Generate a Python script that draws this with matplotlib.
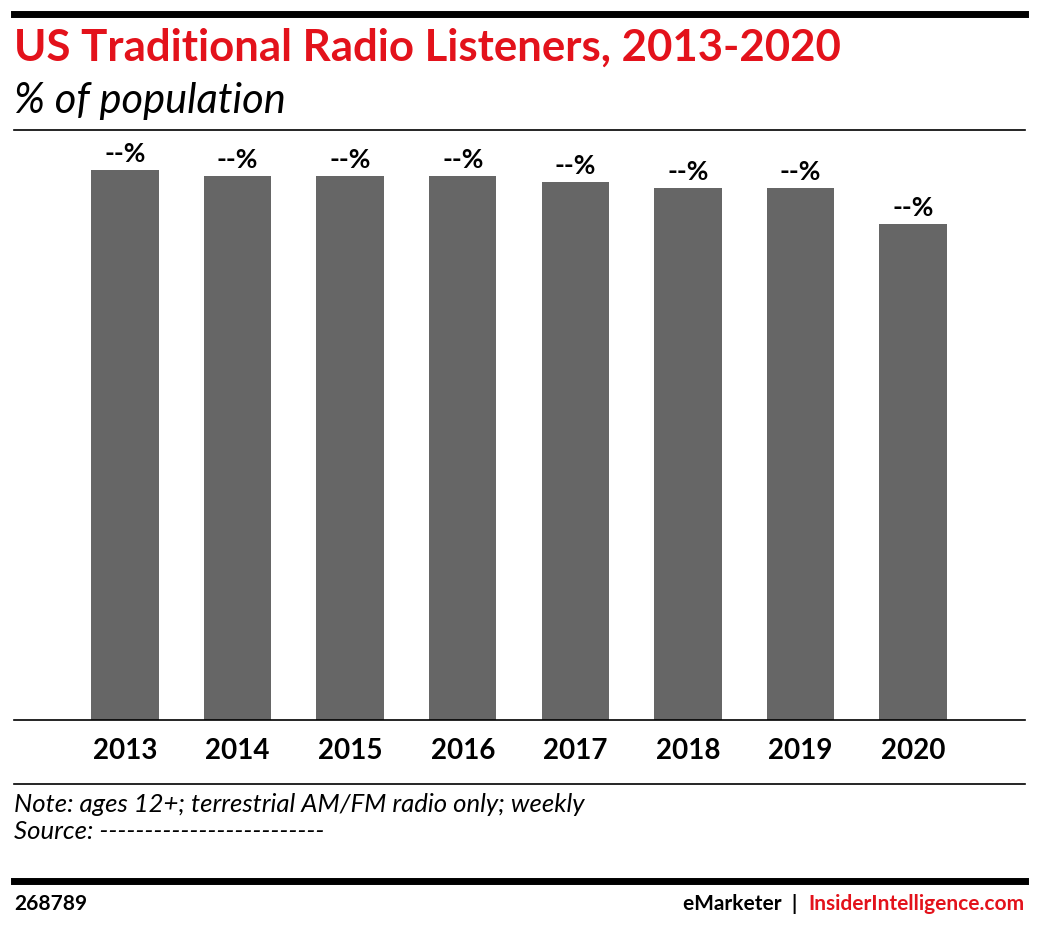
import matplotlib.pyplot as plt
from matplotlib.lines import Line2D

plt.rcParams['font.family'] = ['Lato', 'DejaVu Sans']

years = ['2013', '2014', '2015', '2016', '2017', '2018', '2019', '2020']
values = [92, 91, 91, 91, 90, 89, 89, 83]
labels = ['--%'] * len(years)

W, H = 1040, 928
fig = plt.figure(figsize=(W / 100, H / 100), dpi=100)


def fy(y):
    return 1 - y / H


def hline(y, lw):
    fig.add_artist(Line2D([14 / W, 1025 / W], [fy(y), fy(y)], color='black', lw=lw))


ax = fig.add_axes([14 / W, fy(721), 1011 / W, fy(131) - fy(721)])
x = range(len(years))
bars = ax.bar(x, values, width=0.6, color='#666666')
for xi, v, lab in zip(x, values, labels):
    ax.text(xi, v + 0.8, lab, ha='center', va='bottom', fontsize=19, fontweight='bold')
ax.set_xlim(-0.986, 7.995)
ax.set_ylim(0, 98.7)
ax.set_xticks(list(x))
ax.set_xticklabels(years, fontsize=20, fontweight='bold')
ax.tick_params(axis='x', length=0, pad=12)
ax.set_yticks([])
for s in ['top', 'left', 'right']:
    ax.spines[s].set_visible(False)
ax.spines['bottom'].set_linewidth(1.2)

hline(15, 5)
hline(131, 1.2)
hline(785, 1.2)
hline(882, 5)

fig.text(14 / W, fy(48), 'US Traditional Radio Listeners, 2013-2020', color='#e3121b',
         fontsize=31.5, fontweight='bold', va='center')
fig.text(14 / W, fy(101), '% of population', fontsize=30, fontstyle='italic', va='center')
fig.text(14 / W, fy(805), 'Note: ages 12+; terrestrial AM/FM radio only; weekly',
         fontsize=18.5, fontstyle='italic', va='center')
fig.text(14 / W, fy(832), 'Source: -------------------------', fontsize=18.5,
         fontstyle='italic', va='center')
fig.text(14 / W, fy(904), '268789', fontsize=15, fontweight='bold', va='center')
fig.text(1025 / W, fy(904), 'InsiderIntelligence.com', color='#e3121b', fontsize=15,
         fontweight='bold', va='center', ha='right')
fig.text(797 / W, fy(904), 'eMarketer  |', fontsize=15, fontweight='bold',
         va='center', ha='right')

fig.savefig('out.png', dpi=100)
